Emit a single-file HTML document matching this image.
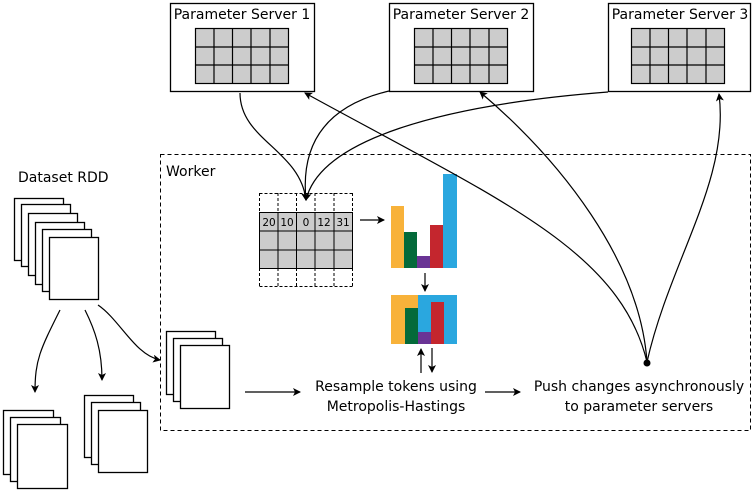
<!DOCTYPE html>
<html><head><meta charset="utf-8"><style>
body{margin:0;background:#fff}
svg text{font-family:"DejaVu Sans","Liberation Sans",sans-serif;fill:#000}
</style></head><body>
<svg width="756" height="492" viewBox="0 0 756 492" xmlns="http://www.w3.org/2000/svg">
<defs>
<marker id="a" markerWidth="8" markerHeight="8" refX="7" refY="4" orient="auto" markerUnits="userSpaceOnUse"><path d="M0,0 L8,4 L0,8 L2,4 z" fill="#000"/></marker>
</defs>
<g stroke="#000" stroke-width="1.3">
<rect x="170.5" y="3.5" width="144" height="88" fill="#fff"/>
<rect x="389.5" y="3.5" width="144" height="88" fill="#fff"/>
<rect x="608.5" y="3.5" width="142" height="88" fill="#fff"/>
</g>
<g font-size="14">
<text x="242" y="19" text-anchor="middle">Parameter Server 1</text>
<text x="461" y="19" text-anchor="middle">Parameter Server 2</text>
<text x="680" y="19" text-anchor="middle">Parameter Server 3</text>
</g>
<g stroke="#000" stroke-width="1.2" fill="#ccc">
<g id="grid"><rect x="195.5" y="28.5" width="93" height="55"/>
<path d="M214 28.5V83.5M232.5 28.5V83.5M251 28.5V83.5M270 28.5V83.5M195.5 47H288.5M195.5 65H288.5" fill="none"/></g>
<use href="#grid" x="219"/><use href="#grid" x="436"/>
</g>
<rect x="160.5" y="154.5" width="590" height="276" fill="none" stroke="#000" stroke-dasharray="4,3"/>
<text x="166" y="176" font-size="14">Worker</text>
<text x="18" y="182" font-size="14">Dataset RDD</text>
<g stroke="#000" stroke-width="1">
<rect x="259.5" y="212.5" width="93" height="56" fill="#ccc"/>
<path d="M278 212.5V268.5M296.5 212.5V268.5M315 212.5V268.5M334 212.5V268.5M259.5 231H352.5M259.5 250H352.5" fill="none"/>
<path d="M259.5 193V286.5M278 193V286.5M296.5 193V286.5M315 193V286.5M334 193V286.5M352.5 193V286.5M259.5 193.5H352.5M259.5 286.5H352.5" fill="none" stroke-dasharray="3,2"/>
</g>
<g font-size="10.5" text-anchor="middle" font-family="Liberation Serif">
<text x="269" y="226">20</text><text x="287" y="226">10</text><text x="306" y="226">0</text><text x="324" y="226">12</text><text x="343" y="226">31</text>
</g>
<rect x="391" y="206" width="13" height="62" fill="#f8b23a"/>
<rect x="404" y="232" width="13" height="36" fill="#046a3a"/>
<rect x="417" y="256" width="13" height="12" fill="#6a3495"/>
<rect x="430" y="225" width="13" height="43" fill="#c4262e"/>
<rect x="443" y="174" width="14" height="94" fill="#2aa7df"/>
<rect x="391" y="295" width="27" height="49" fill="#f8b23a"/>
<rect x="418" y="295" width="39" height="49" fill="#2aa7df"/>
<rect x="405" y="308" width="13" height="36" fill="#046a3a"/>
<rect x="418" y="332" width="13" height="12" fill="#6a3495"/>
<rect x="431" y="302" width="13" height="42" fill="#c4262e"/>
<g stroke="#000" stroke-width="1.2" fill="none">
<path d="M360 220H384" marker-end="url(#a)"/>
<path d="M425 273V291" marker-end="url(#a)"/>
<path d="M421 373V349" marker-end="url(#a)"/>
<path d="M432 348V372" marker-end="url(#a)"/>
<path d="M245 392H300" marker-end="url(#a)"/>
<path d="M485 392H520" marker-end="url(#a)"/>
<path d="M240 93C240 140 300 150 306 200" marker-end="url(#a)"/>
<path d="M389 91C330 105 300 140 306 200" marker-end="url(#a)"/>
<path d="M608 92C440 105 320 140 306 200" marker-end="url(#a)"/>
<path d="M647 362C620 250 500 200 305 93" marker-end="url(#a)"/>
<path d="M647 362C640 260 560 160 480 92" marker-end="url(#a)"/>
<path d="M647 362C670 260 730 180 719 94" marker-end="url(#a)"/>
<path d="M60 310C40 350 35 360 35 392" marker-end="url(#a)"/>
<path d="M85 310C95 330 102 350 102 380" marker-end="url(#a)"/>
<path d="M98 305C120 320 135 355 160 360" marker-end="url(#a)"/>
</g>
<circle cx="647" cy="363" r="3.5" fill="#000"/>
<g fill="#fff" stroke="#000" stroke-width="1.3">
<rect x="14.5" y="198.5" width="49" height="62"/><rect x="21.5" y="204.5" width="49" height="62"/><rect x="28.5" y="213.5" width="49" height="62"/><rect x="35.5" y="222.5" width="49" height="62"/><rect x="42.5" y="229.5" width="49" height="62"/><rect x="49.5" y="237.5" width="49" height="62"/>
<rect x="3.5" y="410.5" width="50" height="64"/><rect x="10.5" y="417.5" width="50" height="64"/><rect x="17.5" y="424.5" width="50" height="64"/>
<rect x="84.5" y="395.5" width="49" height="62"/><rect x="91.5" y="402.5" width="49" height="62"/><rect x="98.5" y="410.5" width="49" height="62"/>
<rect x="166.5" y="331.5" width="49" height="63"/><rect x="173.5" y="338.5" width="49" height="63"/><rect x="180.5" y="345.5" width="49" height="63"/>
</g>
<g font-size="14" text-anchor="middle">
<text x="396" y="391">Resample tokens using</text>
<text x="396" y="411">Metropolis-Hastings</text>
<text x="639" y="391">Push changes asynchronously</text>
<text x="639" y="411">to parameter servers</text>
</g>
</svg>
</body></html>
